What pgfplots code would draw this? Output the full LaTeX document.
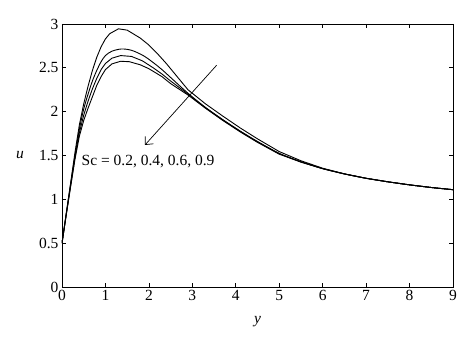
\documentclass[border=0pt]{standalone}
\usepackage{pgfplots}
\pgfplotsset{compat=1.18}
\usepackage{fontspec}
\setmainfont{Liberation Serif}
\usetikzlibrary{arrows.meta}
\begin{document}
\begin{tikzpicture}
\path[use as bounding box] (-62pt,-61pt) rectangle (412pt,287pt);
\begin{axis}[
  scale only axis, width=391pt, height=263pt,
  xmin=0, xmax=9, ymin=0, ymax=3,
  xtick={0,1,...,9}, ytick={0,0.5,...,3},
  tick align=inside, major tick length=4pt,
  axis line style={line width=0.8pt}, tick style={line width=0.7pt, black},
  /pgf/number format/assume math mode=true,
  tick label style={font=\fontsize{15.5}{18}\selectfont},
  yticklabel style={/pgf/number format/.cd, fixed, precision=1},
  xlabel={\itshape y}, ylabel={\itshape u},
  every axis x label/.style={at={(axis description cs:0.5,0)}, anchor=center, yshift=-35pt, font=\fontsize{15.5}{18}\selectfont},
  every axis y label/.style={at={(axis description cs:0,0.5)}, anchor=center, xshift=-42pt, font=\fontsize{15.5}{18}\selectfont},
  cycle list={{black, smooth, no marks}},
  every axis plot/.append style={line width=0.9pt},
]
% Sc = 0.2
\addplot coordinates {(0,0.5)(0.1,0.85)(0.2,1.19)(0.3,1.54)(0.4,1.85)(0.5,2.09)(0.6,2.29)(0.7,2.47)(0.8,2.62)(0.9,2.74)(1.0,2.83)(1.1,2.89)(1.3,2.945)(1.5,2.93)(1.8,2.84)(2.0,2.76)(2.2,2.66)(2.4,2.55)(2.6,2.43)(2.9,2.25)(3.3,2.09)(3.7,1.95)(4.1,1.815)(4.5,1.69)(5,1.545)(5.5,1.44)(6,1.355)(6.5,1.29)(7,1.24)(7.5,1.2)(8,1.165)(8.5,1.135)(9,1.11)};
% Sc = 0.4
\addplot coordinates {(0,0.5)(0.1,0.84)(0.2,1.18)(0.3,1.5)(0.4,1.8)(0.5,2.03)(0.6,2.2)(0.7,2.35)(0.8,2.47)(0.9,2.57)(1.0,2.64)(1.15,2.69)(1.37,2.715)(1.6,2.7)(1.87,2.64)(2.1,2.56)(2.3,2.48)(2.5,2.39)(2.9,2.21)(3.3,2.05)(3.7,1.91)(4.1,1.78)(4.5,1.66)(5,1.525)(5.5,1.43)(6,1.35)(6.5,1.29)(7,1.24)(7.5,1.2)(8,1.165)(8.5,1.135)(9,1.11)};
% Sc = 0.6
\addplot coordinates {(0,0.5)(0.1,0.835)(0.2,1.16)(0.3,1.48)(0.4,1.76)(0.5,1.96)(0.6,2.12)(0.7,2.26)(0.8,2.38)(0.9,2.48)(1.0,2.55)(1.15,2.61)(1.35,2.64)(1.6,2.63)(1.85,2.58)(2.1,2.5)(2.3,2.43)(2.5,2.35)(2.9,2.2)(3.3,2.045)(3.7,1.905)(4.1,1.775)(4.5,1.655)(5,1.52)(5.5,1.425)(6,1.35)(6.5,1.29)(7,1.24)(7.5,1.2)(8,1.165)(8.5,1.135)(9,1.11)};
% Sc = 0.9
\addplot coordinates {(0,0.5)(0.1,0.83)(0.2,1.15)(0.3,1.46)(0.4,1.72)(0.5,1.9)(0.6,2.04)(0.7,2.17)(0.8,2.3)(0.9,2.4)(1.0,2.48)(1.15,2.545)(1.35,2.575)(1.55,2.57)(1.8,2.535)(2.0,2.49)(2.3,2.4)(2.5,2.32)(2.9,2.19)(3.3,2.04)(3.7,1.9)(4.1,1.77)(4.5,1.65)(5,1.515)(5.5,1.425)(6,1.35)(6.5,1.29)(7,1.24)(7.5,1.2)(8,1.165)(8.5,1.135)(9,1.11)};
\draw[line width=0.7pt, -{Straight Barb[length=6pt,width=11pt]}] (axis cs:3.56,2.53) -- (axis cs:1.91,1.62);
\node[anchor=west, font=\fontsize{15.5}{18}\selectfont, inner sep=0pt] at (axis cs:0.45,1.43) {Sc = 0.2, 0.4, 0.6, 0.9};
\end{axis}
\end{tikzpicture}
\end{document}
